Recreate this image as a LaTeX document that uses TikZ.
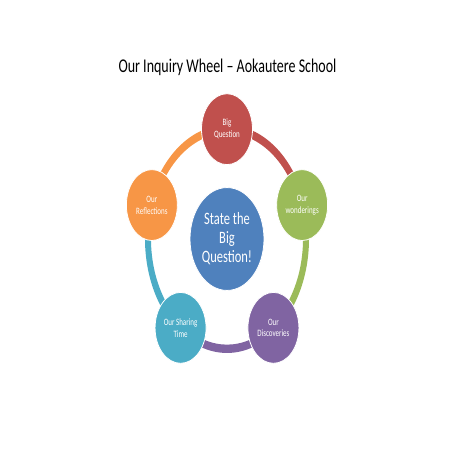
\documentclass[tikz,border=0pt]{standalone}
\usepackage{fontspec}
\setmainfont{Carlito}
\definecolor{wheelred}{HTML}{C0504D}
\definecolor{wheelgreen}{HTML}{9BBB59}
\definecolor{wheelpurple}{HTML}{8064A2}
\definecolor{wheelcyan}{HTML}{4BACC6}
\definecolor{wheelorange}{HTML}{F79646}
\definecolor{wheelblue}{HTML}{4F81BD}
\tikzset{
  stage/.style={circle, draw=white, line width=0.8pt, minimum size=51pt, inner sep=0pt,
    align=center, text=white, font=\fontsize{7}{8.5}\selectfont},
  hub/.style={circle, draw=white, line width=0.8pt, fill=wheelblue, minimum size=74pt,
    inner sep=0pt, align=center, text=white, font=\fontsize{12.5}{13.7}\selectfont}
}
\begin{document}
\begin{tikzpicture}[x=1pt,y=1pt]
\useasboundingbox (0,0) rectangle (453,453);

\node[yscale=1.39, anchor=base, font=\fontsize{14}{16}\selectfont] (title) at (227.5,380)
  {Our Inquiry Wheel – Aokautere School};

\begin{scope}[shift={(227,214)}, yscale=1.39, transform shape]
\coordinate (o) at (0,0);

\path (o) -- (90:79) coordinate (bq);
\path (o) -- (18:79) coordinate (wo);
\path (o) -- (-54:79) coordinate (di);
\path (o) -- (-126:79) coordinate (sh);
\path (o) -- (162:79) coordinate (re);

% bands between the stages
\foreach \a/\b/\c in {90/18/wheelred, 18/-54/wheelgreen, -54/-126/wheelpurple,
                      -126/-198/wheelcyan, 162/90/wheelorange}
  \fill[\c] (\a:82) arc[start angle=\a, end angle=\b, radius=82]
    -- (\b:76) arc[start angle=\b, end angle=\a, radius=76] -- cycle;

\node[stage, fill=wheelred] (big) at (bq) {Big\\Question};
\node[stage, fill=wheelgreen] (wonder) at (wo) {Our\\wonderings};
\node[stage, fill=wheelpurple] (disc) at (di) {Our\\Discoveries};
\node[stage, fill=wheelcyan] (share) at (sh) {Our Sharing\\Time};
\node[stage, fill=wheelorange] (refl) at (re) {Our\\Reflections};

\node[hub] (state) at (o) {State the\\Big\\Question!};
\end{scope}

\end{tikzpicture}
\end{document}
